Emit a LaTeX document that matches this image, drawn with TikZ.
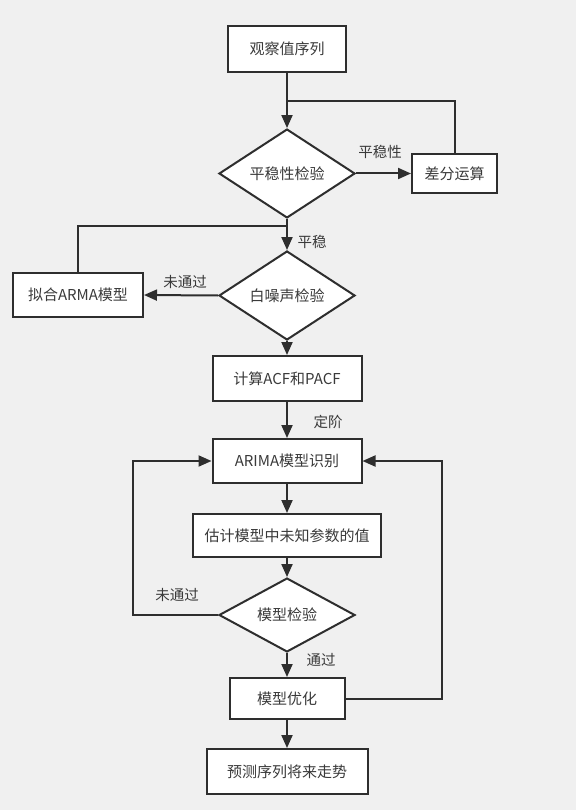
\documentclass[tikz,border=0pt]{standalone}
\usepackage{fontspec}
\setmainfont{Noto Sans CJK SC}
\usetikzlibrary{shapes.geometric,arrows.meta}
\definecolor{bgc}{HTML}{F0F0F0}
\definecolor{lnc}{HTML}{2E2E2E}
\definecolor{txc}{HTML}{3A3A3A}
\begin{document}
\begin{tikzpicture}[x=1pt,y=-1pt,
  box/.style={draw=lnc, line width=2pt, fill=white, inner sep=0pt, text=txc, font=\fontsize{15}{17}\selectfont},
  dia/.style={diamond, draw=lnc, line width=2pt, fill=white, inner sep=0pt, minimum width=136pt, text=txc, font=\fontsize{15}{17}\selectfont},
  conn/.style={draw=lnc, line width=2pt},
  arr/.style={conn, -{Triangle[length=13pt,width=11pt]}},
  lab/.style={text=txc, font=\fontsize{14.5}{16}\selectfont, inner sep=0pt}]
\fill[bgc] (0,0) rectangle (576,810);
\useasboundingbox (0,0) rectangle (576,810);

\node[box, minimum width=118pt, minimum height=46pt] (obs) at (287,49) {观察值序列};
\node[dia, minimum height=69pt] (d1) at (287,173.5) {平稳性检验};
\node[box, minimum width=85pt, minimum height=39pt] (diff) at (454.5,173.5) {差分运算};
\node[dia, minimum height=65pt] (d2) at (287,295.5) {白噪声检验};
\node[box, minimum width=130pt, minimum height=44pt] (arma) at (78,295) {拟合ARMA模型};
\node[box, minimum width=149pt, minimum height=45pt] (acf) at (287,378.5) {计算ACF和PACF};
\node[box, minimum width=149pt, minimum height=44pt] (arima) at (287,461) {ARIMA模型识别};
\node[box, minimum width=188pt, minimum height=43pt] (est) at (287,535.5) {估计模型中未知参数的值};
\node[dia, minimum height=64pt] (d3) at (287,615) {模型检验};
\node[box, minimum width=115pt, minimum height=41pt] (opt) at (287,698.5) {模型优化};
\node[box, minimum width=161pt, minimum height=45pt] (pred) at (287,771.5) {预测序列将来走势};

\coordinate (j1) at (287,101);
\coordinate (j2) at (287,226);
\coordinate (lft) at (133,615);
\coordinate (rgt) at (442,698.5);

\draw[arr] (obs.south) -- (d1.north);
\draw[conn] (diff.north) |- (j1);
\draw[arr] (d1.east) -- (diff.west);
\draw[arr] (d1.south) -- (d2.north);
\draw[conn] (j2) -| (arma.north);
\draw[arr] (d2.west) -- (arma.east);
\draw[arr] (d2.south) -- (acf.north);
\draw[arr] (acf.south) -- (arima.north);
\draw[arr] (arima.south) -- (est.north);
\draw[arr] (est.south) -- (d3.north);
\draw[arr] (d3.south) -- (opt.north);
\draw[arr] (opt.south) -- (pred.north);
\draw[arr] (d3.west) -- (lft) |- (arima.west);
\draw[arr] (opt.east) -- (rgt) |- (arima.east);

\node[lab] (l1) at (380,152) {平稳性};
\node[lab] (l2) at (312,242) {平稳};
\node[lab] (l3) at (185,282) {未通过};
\node[lab] (l4) at (328,422) {定阶};
\node[lab] (l5) at (177,595) {未通过};
\node[lab] (l6) at (321,660) {通过};
\end{tikzpicture}
\end{document}
